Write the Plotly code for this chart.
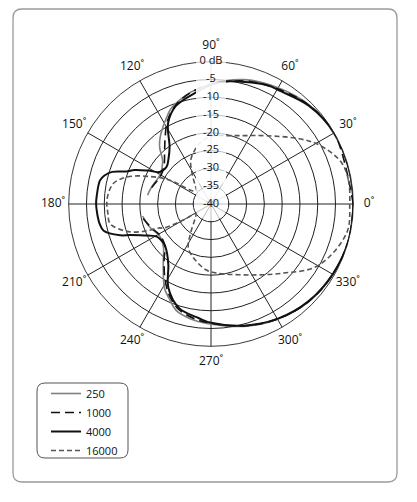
import plotly.graph_objects as go

# polar response in dB (angle in degrees, level in dB)
theta_250 = [0, 15, 30, 45, 60, 75, 90, 100, 107, 113, 118, 122, 127, 132, 139, 151, 160, 167, 172,
             180,
             190, 200, 213, 222, 232, 241, 246, 252, 260, 268, 285, 300, 315, 330, 345, 360]
db_250 = [0, 0, -0.2, -0.8, -2.3, -3.8, -6.2, -8.0, -9.5, -11.0, -13.0, -14.5, -16.3, -18.4, -22.0, -23.5, -23.0, -22.4, -22.0,
          None,
          -20.5, -21.5, -23.0, -22.0, -18.2, -13.0, -11.0, -8.5, -7.2, -6.4, -4.4, -2.6, -1.2, -0.4, 0, 0]

theta_1000 = [0, 30, 45, 60, 75, 90, 100, 110, 118, 125, 132, 140, 150, 160, 168,
              180,
              192, 202, 212, 222, 230, 238, 245, 253, 262, 270, 285, 300, 315, 330, 345, 360]
db_1000 = [0, 0, -0.9, -2.6, -4.2, -6.4, -8.1, -10.6, -13.8, -17.5, -20.5, -22.8, -23.8, -23.2, -22.2,
           None,
           -20.5, -22.0, -23.2, -22.5, -19.5, -15.5, -12.0, -9.0, -7.4, -6.5, -4.5, -2.7, -1.2, -0.5, 0, 0]

theta_4000 = [0, 14, 30, 45, 58, 65, 84, 90, 97, 110, 118, 126, 133, 140, 148, 152, 156, 159, 162, 165,
              168, 176, 180, 185, 190, 194, 199, 201, 205, 211, 216, 221, 228, 235, 243, 253, 264, 270,
              285, 300, 315, 330, 345, 360]
db_4000 = [0, 0, 0, -1.0, -2.7, -3.1, -5.4, -6.5, -8.2, -10.8, -14.3, -20.2, -22.5, -23.7, -23.0, -20.0, -16.5, -14.5, -10.8, -9.0,
           -8.1, -7.8, -7.7, -7.9, -8.2, -8.9, -13.0, -15.6, -19.1, -22.2, -22.7, -22.7, -21.5, -19.1, -13.6, -9.4, -7.7, -6.6,
           -4.6, -2.7, -1.3, -0.5, 0, 0]

theta_16000 = [0, 10, 18, 28, 36, 51, 65, 80, 90, 100, 108, 115, 122, 130, 138, 146, 149, 152, 156, 160, 164, 168,
               174, 180, 185, 191, 198, 202, 205, 207, 210, 213, 222, 235, 243, 256, 266, 275, 299, 316, 330, 348, 360]
db_16000 = [-1.0, -0.8, -1.6, -5.1, -8.9, -15.3, -18.8, -20.5, -21.0, -22.5, -24.5, -26.5, -30.0, -33.0, -34.5, -33.0, -28.0, -24.5, -21.0, -17.0, -14.0, -12.0,
            -11.0, -10.7, -10.9, -11.1, -15.1, -19.4, -24.1, -25.0, -31.0, -35.0, -34.0, -30.0, -26.0, -23.3, -21.4, -20.5, -17.2, -12.0, -5.3, -1.0, -1.0]

ring_values = [0, -5, -10, -15, -20, -25, -30, -35, -40]
ring_labels = ["0 dB", "-5", "-10", "-15", "-20", "-25", "-30", "-35", "-40"]
angle_ticks = [0, 30, 60, 90, 120, 150, 180, 210, 240, 270, 300, 330]
angle_labels = [f"{a}˚" for a in angle_ticks]

W, H = 417, 502
PAGE = 8          # default body margin of the page the figure sits in
FW, FH = W - 2 * PAGE, H - 2 * PAGE
FONT = "Open Sans"
CX, CY, R = 211, 204, 142.3   # centre and 0 dB radius in window pixels
R_LABEL = 158                 # radius of the angle labels


def px(x):
    # window pixel -> paper x
    return (x - PAGE) / FW


def py(y):
    return 1 - (y - PAGE) / FH


def rounded_box(x0, y0, x1, y1, r):
    # svg path for a rounded rectangle, window pixels -> paper coords
    return (f"M {px(x0 + r)},{py(y0)} L {px(x1 - r)},{py(y0)} "
            f"Q {px(x1)},{py(y0)} {px(x1)},{py(y0 + r)} L {px(x1)},{py(y1 - r)} "
            f"Q {px(x1)},{py(y1)} {px(x1 - r)},{py(y1)} L {px(x0 + r)},{py(y1)} "
            f"Q {px(x0)},{py(y1)} {px(x0)},{py(y1 - r)} L {px(x0)},{py(y0 + r)} "
            f"Q {px(x0)},{py(y0)} {px(x0 + r)},{py(y0)} Z")


fig = go.Figure()

fig.add_trace(go.Scatterpolar(theta=theta_250, r=db_250, name="250", mode="lines",
                              line=dict(color="#808080", width=1.6, shape="spline")))
fig.add_trace(go.Scatterpolar(theta=theta_1000, r=db_1000, name="1000", mode="lines",
                              line=dict(color="#111111", width=1.6, dash="9px,5px", shape="spline")))
fig.add_trace(go.Scatterpolar(theta=theta_4000, r=db_4000, name="4000", mode="lines",
                              line=dict(color="#111111", width=2, shape="spline")))
fig.add_trace(go.Scatterpolar(theta=theta_16000, r=db_16000, name="16000", mode="lines",
                              line=dict(color="#555555", width=1.6, dash="5px,3px", shape="spline")))

# white column behind the ring labels on the 90 degree spoke, round patch at the centre
fig.add_trace(go.Scatterpolar(theta=[90] * len(ring_values), r=ring_values, mode="markers",
                              showlegend=False, hoverinfo="skip", cliponaxis=False,
                              marker=dict(color="white", line=dict(width=0),
                                          symbol=["square"] * (len(ring_values) - 1) + ["circle"],
                                          size=[30] * (len(ring_values) - 1) + [34])))
fig.add_trace(go.Scatterpolar(theta=[90] * len(ring_values), r=ring_values, text=ring_labels,
                              mode="text", showlegend=False, hoverinfo="skip", cliponaxis=False,
                              textfont=dict(family=FONT, size=11, color="#111111")))
# angle labels: on the rim of a second, invisible polar a little larger than the first
fig.add_trace(go.Scatterpolar(theta=angle_ticks, r=[1] * len(angle_ticks), text=angle_labels,
                              subplot="polar2", mode="text", showlegend=False, hoverinfo="skip",
                              cliponaxis=False, textfont=dict(family=FONT, size=12, color="#111111")))

fig.update_layout(
    width=FW, height=FH,
    margin=dict(l=0, r=0, t=0, b=0),
    paper_bgcolor="white",
    font=dict(family=FONT, size=11, color="#111111"),
    polar=dict(
        domain=dict(x=[px(CX - R), px(CX + R)], y=[py(CY + R), py(CY - R)]),
        bgcolor="white",
        radialaxis=dict(range=[-40, 0], tick0=-40, dtick=5, showticklabels=False, ticks="",
                        showline=False, gridcolor="#222222", gridwidth=0.8, angle=90,
                        layer="below traces"),
        angularaxis=dict(rotation=0, direction="counterclockwise", tickmode="array",
                         tickvals=angle_ticks, showticklabels=False, ticks="",
                         linecolor="#222222", linewidth=0.9, gridcolor="#222222", gridwidth=0.8,
                         layer="below traces"),
    ),
    polar2=dict(
        domain=dict(x=[px(CX - R_LABEL), px(CX + R_LABEL)], y=[py(CY + R_LABEL), py(CY - R_LABEL)]),
        bgcolor="rgba(0,0,0,0)",
        radialaxis=dict(range=[0, 1], visible=False),
        angularaxis=dict(rotation=0, direction="counterclockwise", visible=False),
    ),
    legend=dict(x=px(46), y=py(379), xanchor="left", yanchor="top",
                bgcolor="rgba(0,0,0,0)", font=dict(family=FONT, size=11),
                itemwidth=30, tracegroupgap=0),
    shapes=[
        dict(type="path", xref="paper", yref="paper", path=rounded_box(13, 9, 397, 482, 9),
             line=dict(color="#9a9a9a", width=1.3)),
        dict(type="path", xref="paper", yref="paper", path=rounded_box(37, 383, 128, 458, 8),
             line=dict(color="#555555", width=1)),
    ],
)

fig.write_html("out.html")
